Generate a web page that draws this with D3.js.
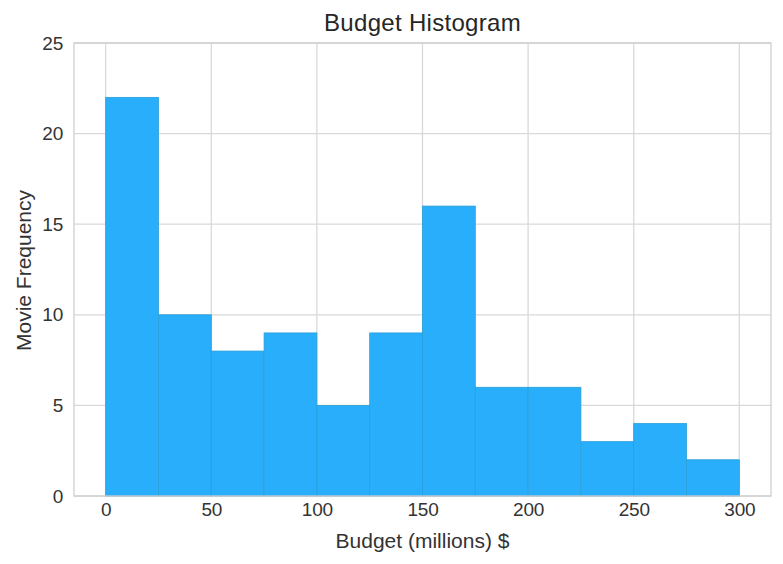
<!DOCTYPE html>
<html><head><meta charset="utf-8">
<script src="https://cdn.jsdelivr.net/npm/d3@7"></script>
<style>body{margin:0;background:#fff;} text{font-family:"Liberation Sans",Arial,sans-serif;}</style>
</head><body>
<svg id="c" width="783" height="564"></svg>
<script>
const binStarts = [0,25,50,75,100,125,150,175,200,225,250,275];
const binWidth = 25;
const counts = [22,10,8,9,5,9,16,6,6,3,4,2];
const xTicks = [0,50,100,150,200,250,300];
const yTicks = [0,5,10,15,20,25];
const title = "Budget Histogram";
const xLabel = "Budget (millions) $";
const yLabel = "Movie Frequency";

const svg = d3.select("#c");
const L=74, R=771, T=43, B=496;
const x = d3.scaleLinear().domain([-15,315]).range([L,R]);
const y = d3.scaleLinear().domain([0,25]).range([B,T]);

// grid
svg.append("g").selectAll("line.v").data(xTicks).join("line")
  .attr("x1",d=>x(d)).attr("x2",d=>x(d)).attr("y1",T).attr("y2",B)
  .attr("stroke","#d9d9d9").attr("stroke-width",1.3);
svg.append("g").selectAll("line.h").data(yTicks).join("line")
  .attr("y1",d=>y(d)).attr("y2",d=>y(d)).attr("x1",L).attr("x2",R)
  .attr("stroke","#d9d9d9").attr("stroke-width",1.3);

// bars
svg.append("g").selectAll("rect").data(binStarts).join("rect")
  .attr("x",(d)=>x(d)).attr("width",(d)=>x(d+binWidth)-x(d))
  .attr("y",(d,i)=>y(counts[i])).attr("height",(d,i)=>B-y(counts[i]))
  .attr("fill","#29aefc").attr("stroke","#2aa0d8").attr("stroke-width",0.8);

// frame
svg.append("rect").attr("x",L).attr("y",T).attr("width",R-L).attr("height",B-T)
  .attr("fill","none").attr("stroke","#cfcfcf").attr("stroke-width",1.3);

// axes labels via d3 axes
const xa = svg.append("g").attr("transform",`translate(0,${B})`)
  .call(d3.axisBottom(x).tickValues(xTicks).tickSize(0).tickPadding(7).tickFormat(d3.format("d")));
xa.select(".domain").remove();
xa.selectAll("text").attr("font-size",19).attr("letter-spacing",-0.2).attr("fill","#333").attr("font-family","'Liberation Sans',Arial,sans-serif");
const ya = svg.append("g").attr("transform",`translate(${L},0)`)
  .call(d3.axisLeft(y).tickValues(yTicks).tickSize(0).tickPadding(11).tickFormat(d3.format("d")));
ya.select(".domain").remove();
ya.selectAll("text").attr("font-size",19).attr("letter-spacing",-0.2).attr("fill","#333").attr("font-family","'Liberation Sans',Arial,sans-serif");

svg.append("text").attr("x",(L+R)/2).attr("y",31).attr("text-anchor","middle")
  .attr("font-size",24).attr("letter-spacing",0.3).attr("fill","#262626").text(title);
svg.append("text").attr("x",(L+R)/2).attr("y",548).attr("text-anchor","middle")
  .attr("font-size",21).attr("fill","#333").text(xLabel);
svg.append("text").attr("transform",`translate(31,${(T+B)/2+1}) rotate(-90)`).attr("text-anchor","middle")
  .attr("font-size",21).attr("fill","#333").text(yLabel);
</script>
</body></html>
